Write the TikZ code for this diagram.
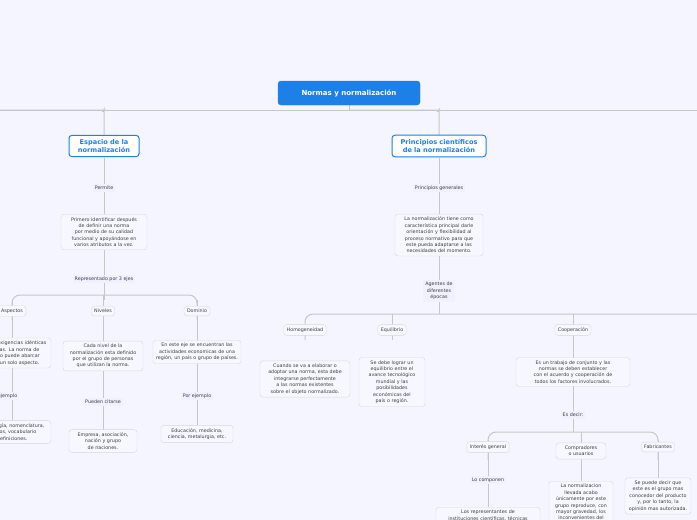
\documentclass[tikz,border=0pt]{standalone}
\usepackage{fontspec}
\setmainfont{DejaVu Sans}
\definecolor{mblue}{HTML}{1C80E6}
\hyphenpenalty=10000\relax
\exhyphenpenalty=10000\relax
\begin{document}
\begin{tikzpicture}[x=1pt,y=-1pt,
 lin/.style={draw=black!22,line width=1pt,rounded corners=8pt},
 tbox/.style={draw=black!15,fill=white!97!blue,rounded corners=3pt,align=center,font=\fontsize{4.8}{6.4}\selectfont,text=black!75,inner sep=3pt},
 lbl/.style={fill=white!94!blue,align=center,font=\fontsize{4.8}{6.4}\selectfont,text=black!75,inner sep=2pt},
 main/.style={draw=mblue,fill=white,line width=1pt,rounded corners=3pt,align=center,font=\bfseries\fontsize{6.6}{8.2}\selectfont,text=mblue,inner sep=4pt}]
\clip (0,0) rectangle (697,520);
\fill[blue!4!white] (0,0) rectangle (697,520);
\draw[lin] (349,100)--(349,110);
\draw[lin] (0,110)--(697,110);
\draw[lin] (0,110)--(96,110) to[out=0,in=90] (104,118)--(104,135);
\draw[lin] (349,110)--(430,110) to[out=0,in=90] (439,118)--(439,135);
\draw[lin] (104,158)--(104,300);
\draw[lin] (12,320)--(12,295)--(197,295)--(197,320);
\draw[lin] (103,295)--(103,450);
\draw[lin] (12,300)--(12,440);
\draw[lin] (197,300)--(197,440);
\draw[lin] (439,158)--(439,314);
\draw[lin] (305,340)--(305,314)--(697,314);
\draw[lin] (392,340)--(392,314);
\draw[lin] (573,314)--(573,432);
\draw[lin] (488,460)--(488,432)--(658,432)--(658,460);
\draw[lin] (581,432)--(581,490);
\draw[lin] (488,440)--(488,515);
\draw[lin] (658,440)--(658,490);
\node[draw=mblue,fill=mblue,rounded corners=3pt,text=white,font=\bfseries\fontsize{7}{9}\selectfont,minimum width=142,minimum height=24] (root) at (349,93) {Normas y normalización};
\node[main,text width=62] (esp) at (104,146) {Espacio de la normalización};
\node[main,text width=86] (prin) at (439,146) {Principios científicos de la normalización};
\node[lbl] (l1) at (104,188) {Permite};
\node[tbox,text width=80] (esp1) at (104,232) {Primero identificar después de definir una norma por medio de su calidad funcional y apoyándose en varios atributos a la vez.};
\node[lbl] (l2) at (104,279) {Representado por 3 ejes};
\node[tbox] (asp) at (12,311) {Aspectos};
\node[tbox] (niv) at (103,311) {Niveles};
\node[tbox] (dom) at (197,311) {Dominio};
\node[tbox,text width=76] (asp1) at (10,353) {Grupo de exigencias idénticas o conexas. La norma de un objeto puede abarcar más de un solo aspecto.};
\node[lbl] (l3) at (3,396) {Por ejemplo};
\node[tbox,text width=76] (asp2) at (10,432) {Terminología, nomenclatura, símbolos, vocabulario o definiciones.};
\node[tbox,text width=74] (niv1) at (103,356) {Cada nivel de la normalización esta definido por el grupo de personas que utilizan la norma.};
\node[lbl] (l4) at (103,402) {Pueden citarse};
\node[tbox,text width=62] (niv2) at (103,441) {Empresa, asociación, nación y grupo de naciones.};
\node[tbox,text width=82] (dom1) at (197,352) {En este eje se encuentran las actividades economicas de una región, un país o grupo de países.};
\node[lbl] (l5) at (197,396) {Por ejemplo};
\node[tbox,text width=66] (dom2) at (197,434) {Educación, medicina, ciencia, metalurgia, etc.};
\node[lbl] (l6) at (439,188) {Principios generales};
\node[tbox,text width=82] (prin1) at (439,235) {La normalización tiene como característica principal darle orientación y flexibilidad al proceso normativo para que este pueda adaptarse a las necesidades del momento.};
\node[lbl] (l7) at (439,291) {Agentes de\\diferentes\\épocas};
\node[tbox] (hom) at (305,330) {Homogeneidad};
\node[tbox] (equ) at (392,330) {Equilibrio};
\node[tbox] (coo) at (573,330) {Cooperación};
\node[tbox,text width=84] (hom1) at (305,379) {Cuando se va a elaborar o adoptar una norma, esta debe integrarse perfectamente a las normas existentes sobre el objeto normalizado.};
\node[tbox,text width=60] (equ1) at (392,382) {Se debe lograr un equilibrio entre el avance tecnológico mundial y las posibilidades económicas del país o región.};
\node[tbox,text width=108] (coo1) at (573,372) {Es un trabajo de conjunto y las normas se deben establecer con el acuerdo y cooperación de todos los factores involucrados.};
\node[lbl] (l8) at (573,415) {Es decir:};
\node[tbox] (int) at (488,447) {Interés general};
\node[tbox,text width=44] (com) at (581,451) {Compradores o usuarios};
\node[tbox] (fab) at (658,447) {Fabricantes};
\node[lbl] (l9) at (488,480) {Lo componen};
\node[tbox,text width=98,anchor=north] (int1) at (488,507) {Los representantes de instituciones científicas, técnicas};
\node[tbox,text width=58,anchor=north] (com1) at (581,481) {La normalizacion llevada acabo únicamente por este grupo reproduce, con mayor gravedad, los inconvenientes del};
\node[tbox,text width=60] (fab1) at (658,496) {Se puede decir que este es el grupo mas conocedor del producto y, por lo tanto, la opinión mas autorizada.};
\end{tikzpicture}
\end{document}
